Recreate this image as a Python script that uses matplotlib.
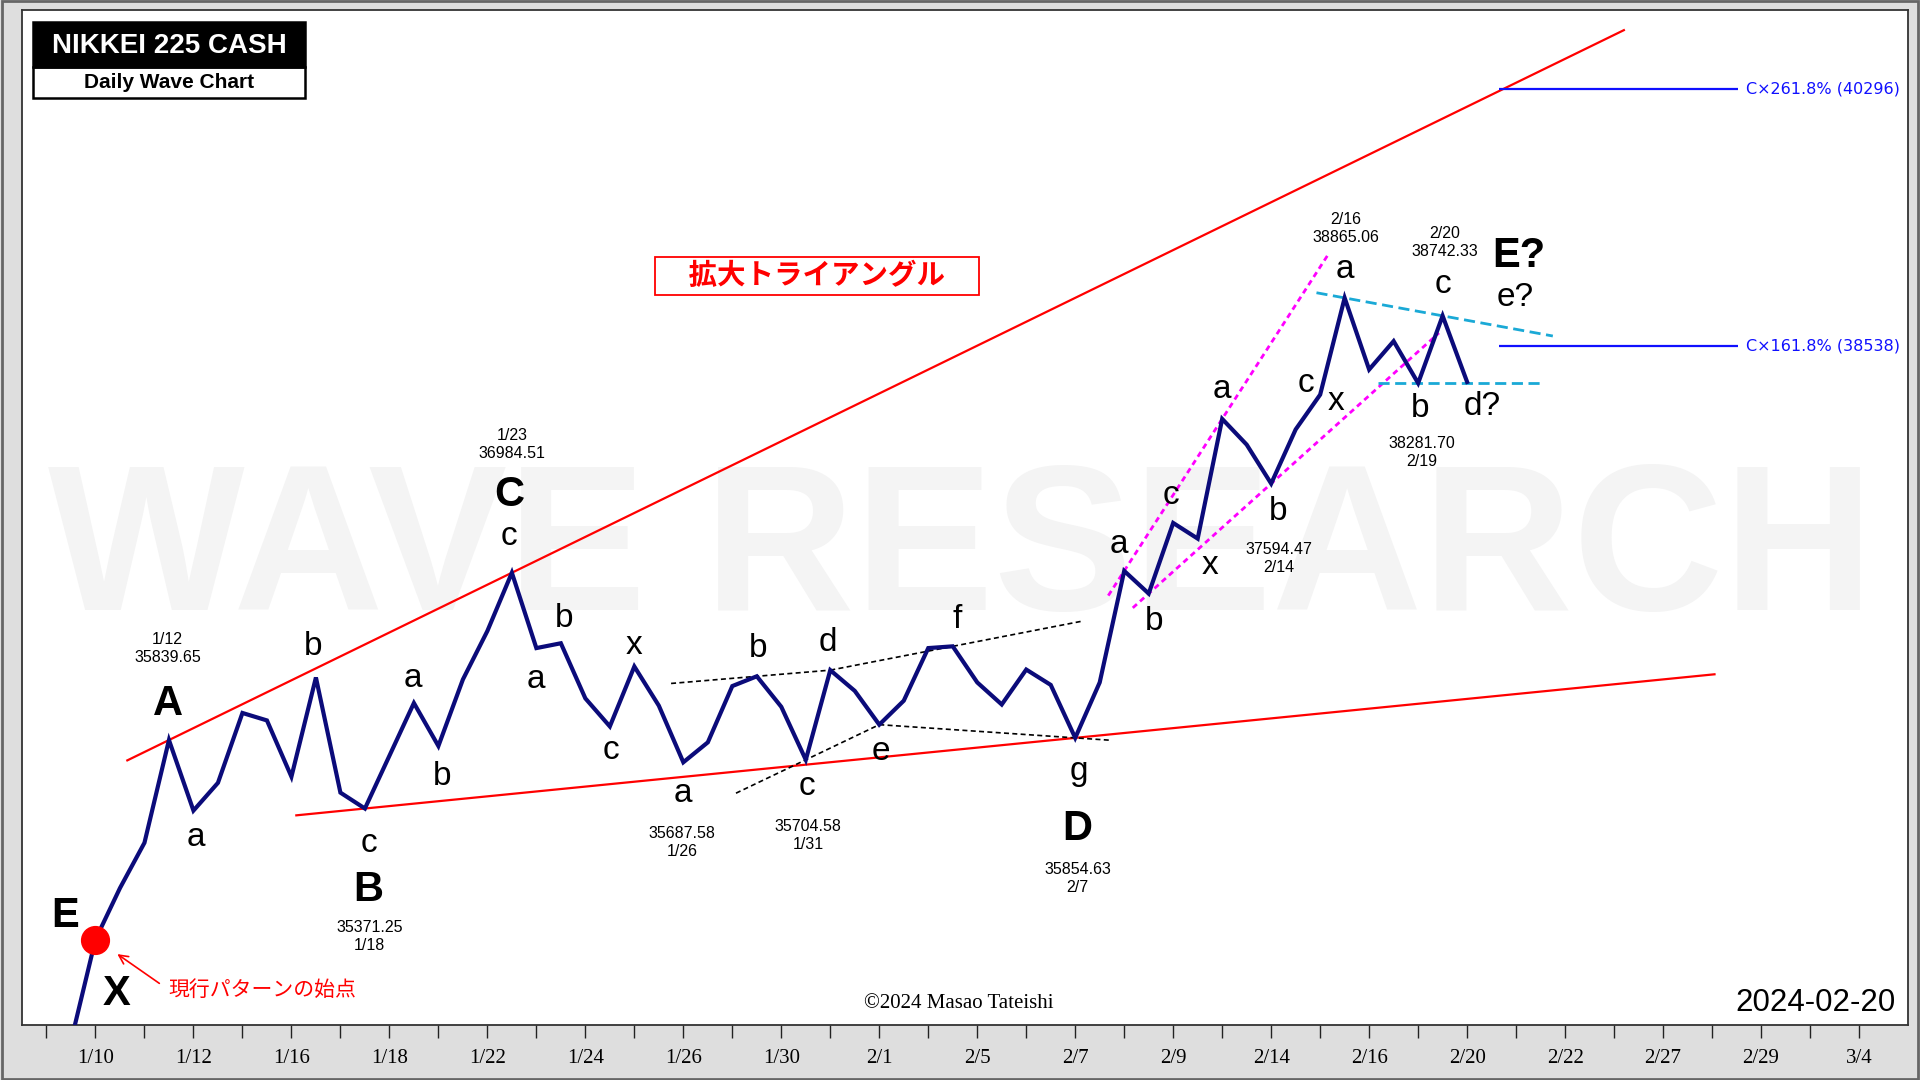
import matplotlib
matplotlib.use('Agg')
import matplotlib.pyplot as plt
from matplotlib.patches import Rectangle
import numpy as np

plt.rcParams['font.family'] = ['Liberation Sans', 'DejaVu Sans']

NAVY = '#0b0b7a'
RED = '#ff0000'
MAG = '#ff00ff'
CYAN = '#1aa9d6'
FIB = '#1010ff'
JP = ['Noto Sans CJK JP', 'DejaVu Sans']
SERIF = ['Liberation Serif', 'DejaVu Serif']

# ─── data ─────────────────────────────────────────────────────
# trading days on the x axis (index -1 .. 36), two sessions per day
days = ['1/9', '1/10', '1/11', '1/12', '1/15', '1/16', '1/17', '1/18', '1/19',
        '1/22', '1/23', '1/24', '1/25', '1/26', '1/29', '1/30', '1/31', '2/1',
        '2/2', '2/5', '2/6', '2/7', '2/8', '2/9', '2/13', '2/14', '2/15', '2/16',
        '2/19', '2/20', '2/21', '2/22', '2/26', '2/27', '2/28', '2/29', '3/1', '3/4']
day_idx = list(range(-1, 37))

sess_x = np.arange(-0.5, 28.01, 0.5)
close = [33779, 34475, 34827, 35137, 35839.65, 35357, 35547, 36025, 35974, 35589,
         36268, 35480, 35371.25, 35732, 36093, 35799, 36254, 36586, 36984.51, 36469,
         36502, 36125, 35933, 36343, 36075, 35687.58, 35824, 36209, 36276, 36067,
         35704.58, 36318, 36176, 35945, 36109, 36469, 36481, 36234, 36083, 36322,
         36217, 35854.63, 36234, 36997, 36842, 37325, 37218, 38037, 37861, 37594.47,
         37965, 38203, 38865.06, 38375, 38569, 38281.70, 38742.33, 38290]

fib_vals = [40296, 38538]
fib_text = ['C×261.8% (40296)', 'C×161.8% (38538)']


def px(i):
    """close value at session position i"""
    return close[int(round((i + 0.5) * 2))]


# ─── figure ───────────────────────────────────────────────────
fig = plt.figure(figsize=(19.2, 10.8), dpi=100)
fig.patch.set_facecolor('#dedede')
fig.add_artist(Rectangle((0.0008, 0.001), 0.9984, 0.998, transform=fig.transFigure,
                         fill=False, ec='#666666', lw=2, zorder=0))
ax = fig.add_axes([22/1920, 55/1080, 1886/1920, 1015/1080])
ax.set_facecolor('white')
ax.set_xlim(-1.5, 37)
ax.set_ylim(33890, 40835)
ax.set_yticks([])
ax.set_xticks(day_idx)
ax.set_xticklabels([d if k % 2 == 0 else '' for k, d in zip(day_idx, days)],
                   family=SERIF, fontsize=15)
ax.tick_params(axis='x', length=9, width=1, color='#222222', pad=8)
for s in ax.spines.values():
    s.set_color('#333333')
    s.set_linewidth(1.3)

ax.text(0.498, 0.462, 'WAVE RESEARCH', transform=ax.transAxes, fontsize=150,
        fontweight='bold', color='#f4f4f4', ha='center', va='center', zorder=0)


def seg(xa, xb, x0, x1, **kw):
    """line through the points at xa and xb, drawn from x0 to x1"""
    ya, yb = px(xa), px(xb)
    k = (yb - ya) / (xb - xa)
    ax.plot([x0, x1], [ya + k*(x0 - xa), ya + k*(x1 - xa)], **kw)


# triangle trend lines
seg(1.5, 8.5, 0.65, 31.2, color=RED, lw=1.6, zorder=2)
seg(5.5, 20, 4.1, 33.05, color=RED, lw=1.6, zorder=2)

# black dotted sub-lines
blk = dict(color='black', lw=1.2, ls=(0, (3, 2)), zorder=2)
seg(13.5, 15, 11.75, 15, **blk)
seg(15, 17.5, 15, 20.175, **blk)
seg(14.5, 16, 13.075, 16, **blk)
seg(16, 20, 16, 20.725, **blk)

# magenta channel
mg = dict(color=MAG, lw=2, ls=(0, (2, 1.5)), zorder=2)
seg(21, 23, 20.675, 25.175, **mg)
seg(21.5, 24, 21.175, 27.425, **mg)

# cyan triangle
cy = dict(color=CYAN, lw=2, ls=(0, (4, 2)), zorder=2)
seg(25.5, 27.5, 24.925, 29.75, **cy)
ax.plot([26.175, 29.5], [px(27), px(27)], **cy)

# fibonacci targets
for v, t in zip(fib_vals, fib_text):
    ax.hlines(v, 28.65, 33.53, color=FIB, lw=1.6, zorder=2)
    ax.text(33.7, v, t, family=['DejaVu Sans'], fontsize=11.5, color=FIB,
            va='center', ha='left')

# price wave
ax.plot(sess_x, close, color=NAVY, lw=3, zorder=4, solid_joinstyle='miter')
ax.plot(sess_x[1], close[1], 'o', ms=20, color=RED, zorder=5)
ax.annotate('', xy=(0.4, 34386), xytext=(1.35, 34164),
            arrowprops=dict(arrowstyle='->', color=RED, lw=1.2, mutation_scale=16))
ax.text(1.49, 34130, '現行パターンの始点', family=JP, fontsize=15, color=RED,
        ha='left', va='center')

ax.text(14.725, 39016, '\u3000拡大トライアングル\u3000', family=JP, fontsize=20.5,
        fontweight='bold', color=RED, ha='center', va='center',
        bbox=dict(boxstyle='square,pad=0.18', fc='white', ec=RED, lw=1.3))

# ─── wave labels ──────────────────────────────────────────────
big = [(-0.625, 34637, 'E'), (0.425, 34101, 'X'), (1.475, 36086, 'A'),
       (5.575, 34813, 'B'), (8.45, 37519, 'C'), (20.05, 35232, 'D'),
       (29.05, 39152, 'E?')]
for x, y, t in big:
    ax.text(x, y, t, fontsize=30, fontweight='bold', ha='center', va='center', zorder=6)

small = [(2.05, 35173, 'a'), (4.45, 36480, 'b'), (5.575, 35131, 'c'),
         (6.475, 36262, 'a'), (7.075, 35592, 'b'), (8.45, 37234, 'c'),
         (9.0, 36254, 'a'), (9.575, 36673, 'b'), (11.0, 36488, 'x'),
         (10.525, 35768, 'c'), (12.0, 35475, 'a'), (13.525, 36463, 'b'),
         (14.525, 35525, 'c'), (14.95, 36505, 'd'), (16.025, 35760, 'e'),
         (17.6, 36664, 'f'), (20.075, 35626, 'g'), (20.9, 37175, 'a'),
         (21.6, 36648, 'b'), (21.95, 37510, 'c'), (22.75, 37033, 'x'),
         (23.0, 38239, 'a'), (24.15, 37402, 'b'), (24.7, 38281, 'c'),
         (25.325, 38155, 'x'), (25.5, 39060, 'a'), (27.5, 38960, 'c'),
         (27.05, 38105, 'b'), (28.3, 38122, 'd?'), (28.975, 38867, 'e?')]
for x, y, t in small:
    ax.text(x, y, t, fontsize=24, ha='center', va='center', zorder=6)

notes = [(1.475, 36463, '1/12\n35839.65'), (5.6, 34495, '35371.25\n1/18'),
         (8.5, 37862, '1/23\n36984.51'), (11.975, 35140, '35687.58\n1/26'),
         (14.55, 35190, '35704.58\n1/31'), (20.05, 34889, '35854.63\n2/7'),
         (24.15, 37083, '37594.47\n2/14'), (25.525, 39337, '2/16\n38865.06'),
         (27.55, 39244, '2/20\n38742.33'), (27.075, 37804, '38281.70\n2/19')]
for x, y, t in notes:
    ax.text(x, y, t, fontsize=11.5, ha='center', va='center', linespacing=1.25, zorder=6)

# ─── header / footer ──────────────────────────────────────────
fig.add_artist(Rectangle((33/1920, 1 - 98/1080), 272/1920, 31/1080, transform=fig.transFigure,
                         fc='white', ec='black', lw=1.8, zorder=10))
fig.add_artist(Rectangle((33/1920, 1 - 67/1080), 272/1920, 45/1080, transform=fig.transFigure,
                         fc='black', ec='black', lw=1.8, zorder=10))
fig.text(169/1920, 1 - 46/1080, 'NIKKEI 225 CASH', color='white', fontsize=20,
         fontweight='bold', ha='center', va='center', zorder=11)
fig.text(169/1920, 1 - 83/1080, 'Daily Wave Chart', color='black', fontsize=15,
         fontweight='bold', ha='center', va='center', zorder=11)

fig.text(959/1920, 1 - 1004/1080, '©2024 Masao Tateishi', family=SERIF, fontsize=15,
         ha='center', va='center')
fig.text(1896/1920, 1 - 1003/1080, '2024-02-20', fontsize=22.5, ha='right', va='center')

fig.savefig('out.png', dpi=100, facecolor=fig.get_facecolor())
